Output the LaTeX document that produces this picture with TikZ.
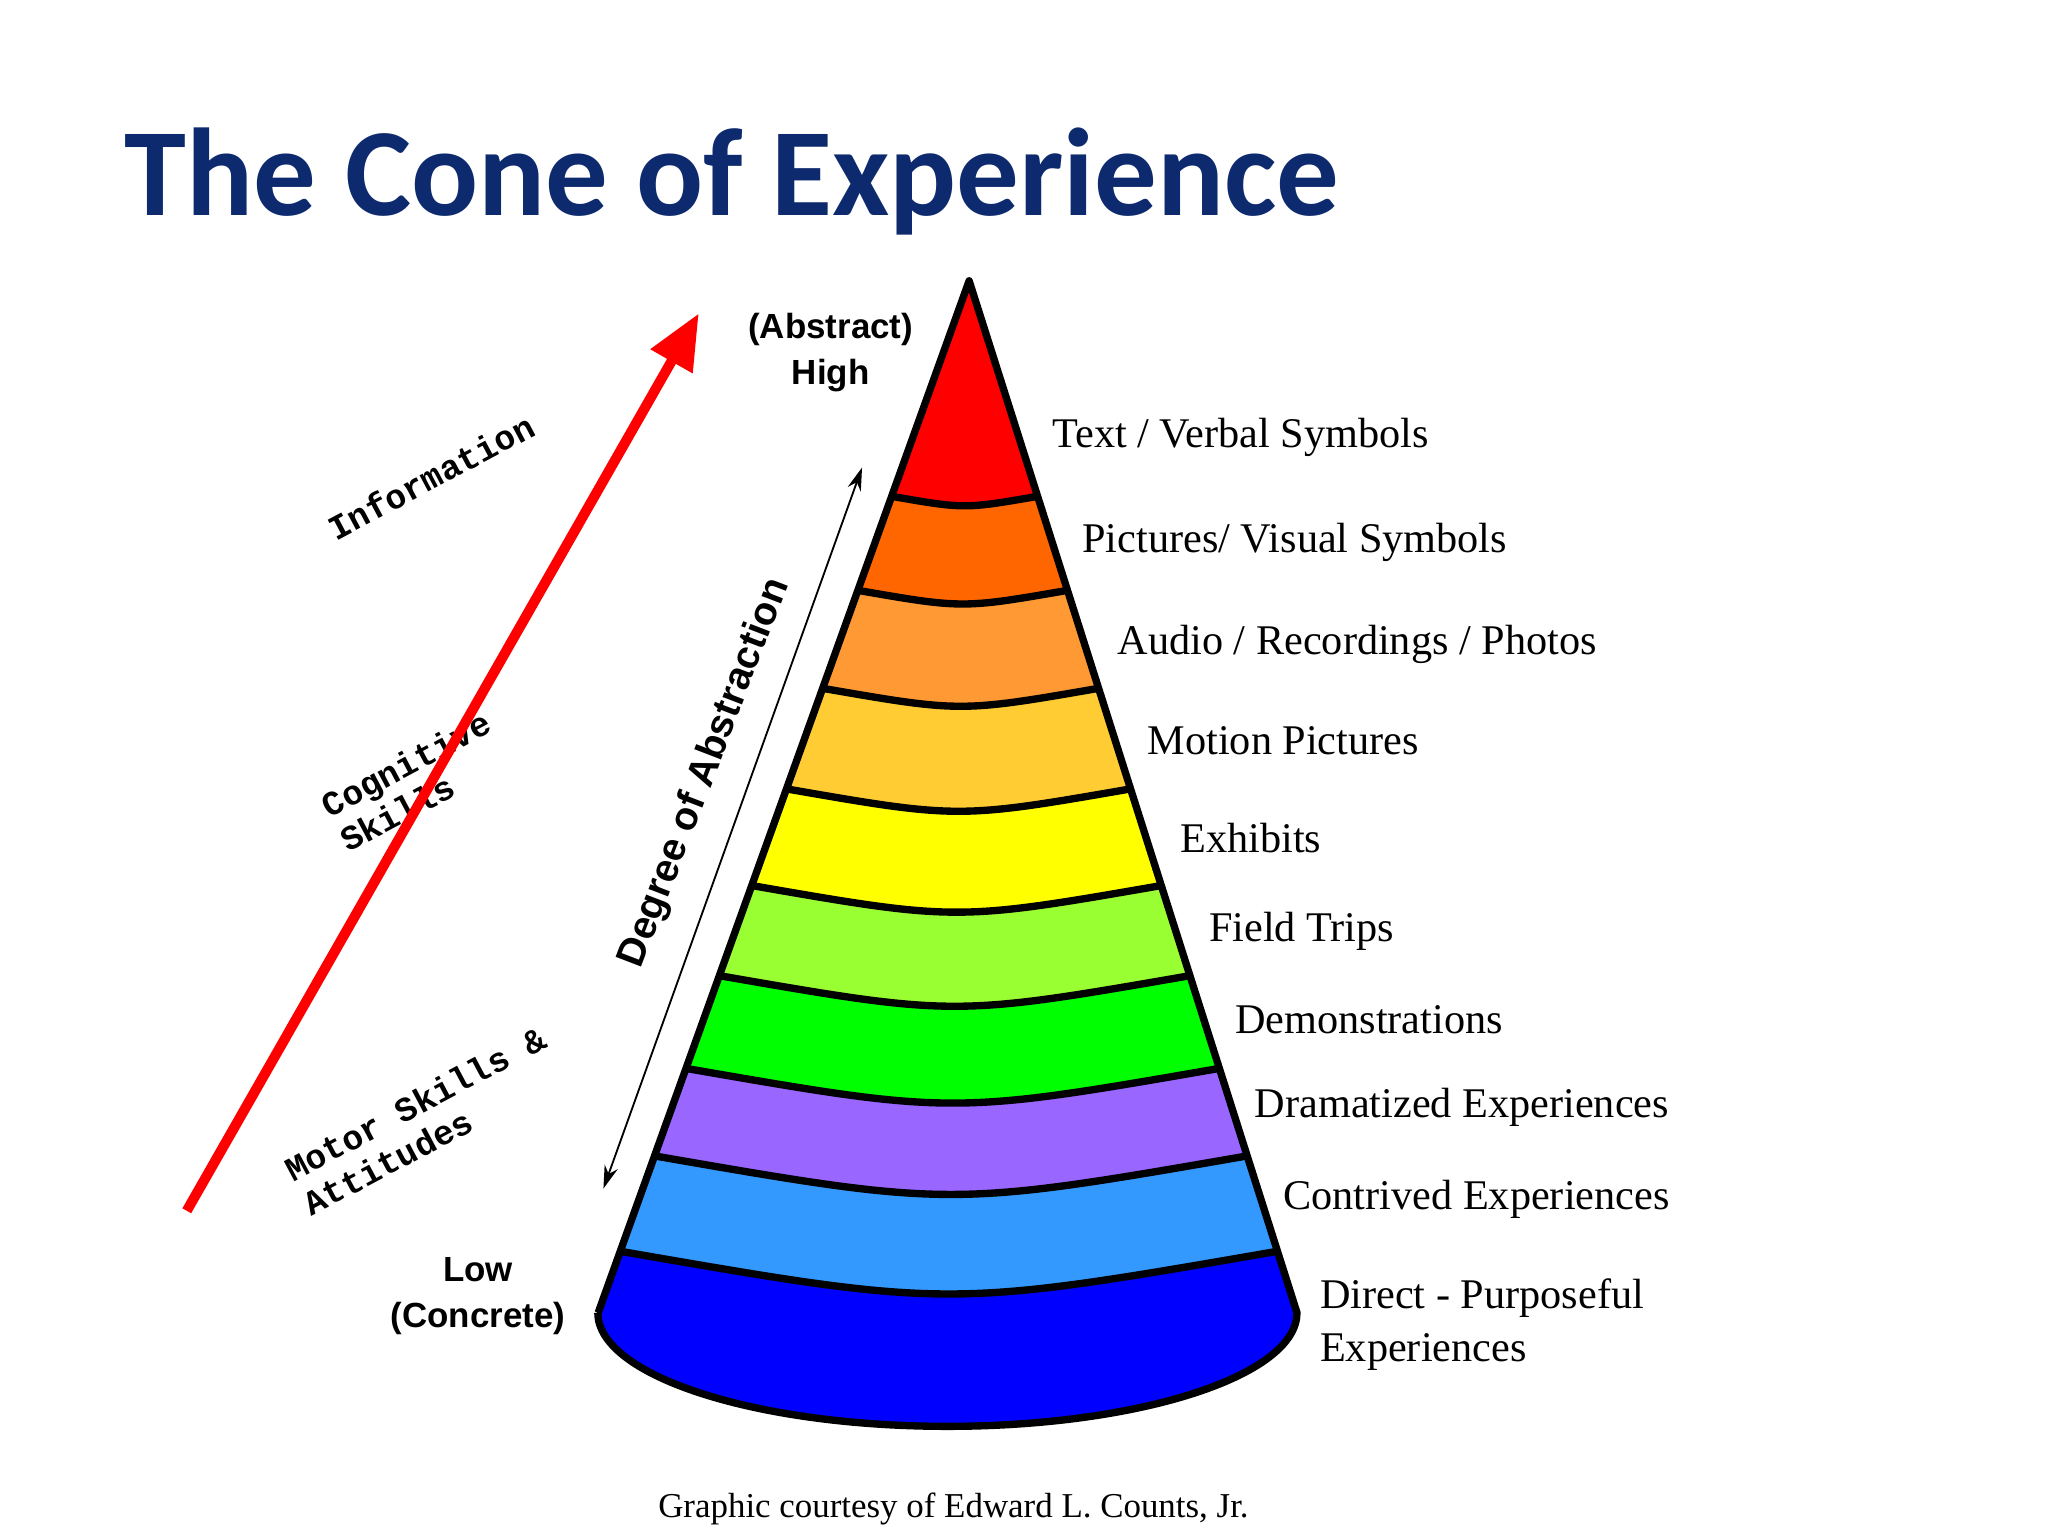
\documentclass[tikz,border=0pt]{standalone}
\usepackage{fontspec}
\setmainfont{Liberation Serif}
\newfontfamily\titlefont{Carlito}
\newfontfamily\arialf{Liberation Sans}
\newfontfamily\monof{Liberation Mono}
\usetikzlibrary{arrows.meta}
\definecolor{navy}{HTML}{0E2A6E}
\tikzset{
  outl/.style={line width=1.6pt, line join=round},
  rlabel/.style={anchor=west, font=\fontsize{9.2}{11}\selectfont, inner sep=0pt},
  llabel/.style={align=center, font=\arialf\bfseries\fontsize{7.6}{10}\selectfont, inner sep=0pt},
  mlabel/.style={align=left, font=\monof\bfseries\fontsize{7.5}{8.5}\selectfont, inner sep=0pt, rotate=28},
}
\newcommand{\bndpts}[2]{% side y, prefix
  \pgfmathsetmacro{\xl}{742-(284/790)*(#1-215)}%
  \pgfmathsetmacro{\xr}{742+(251/790)*(#1-215)}%
  \pgfmathsetmacro{\xm}{(\xl+\xr)/2}%
  \pgfmathsetmacro{\yc}{#1+(0.065/0.75)*(\xr-\xl)}%
  \coordinate (#2l) at (\xl,#1);
  \coordinate (#2r) at (\xr,#1);
  \coordinate (#2c) at (\xm,\yc);
}
\begin{document}
\begin{tikzpicture}[x=0.01cm,y=-0.01cm]
\useasboundingbox (0,0) rectangle (1568,1176);
\fill[white] (0,0) rectangle (1568,1176);
\node[anchor=base west, inner sep=0pt, text=navy, font=\titlefont\bfseries\fontsize{27.2}{30}\selectfont] (title) at (95,165) {The Cone of Experience};
\coordinate (apex) at (742,215);
\coordinate (bl) at (458,1005);
\coordinate (br) at (993,1005);
\bndpts{380}{b1}
\bndpts{452}{b2}
\bndpts{527}{b3}
\bndpts{604}{b4}
\bndpts{678}{b5}
\bndpts{747}{b6}
\bndpts{818}{b7}
\bndpts{885}{b8}
\bndpts{958}{b9}
\fill[red] (apex) -- (b1r) .. controls (b1c) .. (b1l) -- cycle;
\foreach \a/\b/\c in {b1/b2/FF6600, b2/b3/FF9933, b3/b4/FFCC33, b4/b5/FFFF00, b5/b6/99FF33, b6/b7/00FF00, b7/b8/9966FF, b8/b9/3399FF}{
  \definecolor{bc}{HTML}{\c}
  \fill[bc] (\a l) .. controls (\a c) .. (\a r) -- (\b r) .. controls (\b c) .. (\b l) -- cycle;
}
\fill[blue] (b9l) .. controls (b9c) .. (b9r) -- (br) arc[start angle=0, end angle=-180, x radius=2.675cm, y radius=0.87cm] -- cycle;
\foreach \a in {b1,b2,b3,b4,b5,b6,b7,b8,b9}{
  \draw[outl] (\a l) .. controls (\a c) .. (\a r);
}
\draw[outl] (bl) -- (apex) -- (br) arc[start angle=0, end angle=-180, x radius=2.675cm, y radius=0.87cm];
\node[rlabel] (t1) at (805,335) {Text / Verbal Symbols};
\node[rlabel] (t2) at (828,415) {Pictures/ Visual Symbols};
\node[rlabel] (t3) at (855,493) {Audio / Recordings / Photos};
\node[rlabel] (t4) at (878,567) {Motion Pictures};
\node[rlabel] (t5) at (903,642) {Exhibits};
\node[rlabel] (t6) at (925,713) {Field Trips};
\node[rlabel] (t7) at (945,781) {Demonstrations};
\node[rlabel] (t8) at (960,848) {Dramatized Experiences};
\node[rlabel] (t9) at (982,918) {Contrived Experiences};
\node[rlabel, align=left, font=\fontsize{9.2}{11.5}\selectfont] (t10) at (1010,1014) {Direct - Purposeful\\Experiences};
\node[llabel] (high) at (636,270) {(Abstract)\\High};
\node[llabel] (low) at (366,992) {Low\\(Concrete)};
\node[mlabel] (info) at (330,365) {Information};
\node[mlabel] (cog) at (318,598) {Cognitive\\Skills};
\node[mlabel] (motor) at (325,858) {Motor Skills \&\\Attitudes};
\node[font=\arialf\bfseries\fontsize{8.6}{10}\selectfont, rotate=69, inner sep=0pt] (deg) at (540,592) {Degree of Abstraction};
\coordinate (d1) at (462,910);
\coordinate (d2) at (660,358);
\draw[{Stealth[length=5pt,width=3pt]}-{Stealth[length=5pt,width=3pt]}, line width=0.4pt] (d1) -- (d2);
\coordinate (r1) at (143,927);
\coordinate (r2) at (535,240);
\draw[red, line width=2.2pt, -{Triangle[length=12pt,width=10pt]}] (r1) -- (r2);
\node[font=\fontsize{7.6}{9}\selectfont, inner sep=0pt] (cap) at (730,1155) {Graphic courtesy of Edward L. Counts, Jr.};
\end{tikzpicture}
\end{document}
